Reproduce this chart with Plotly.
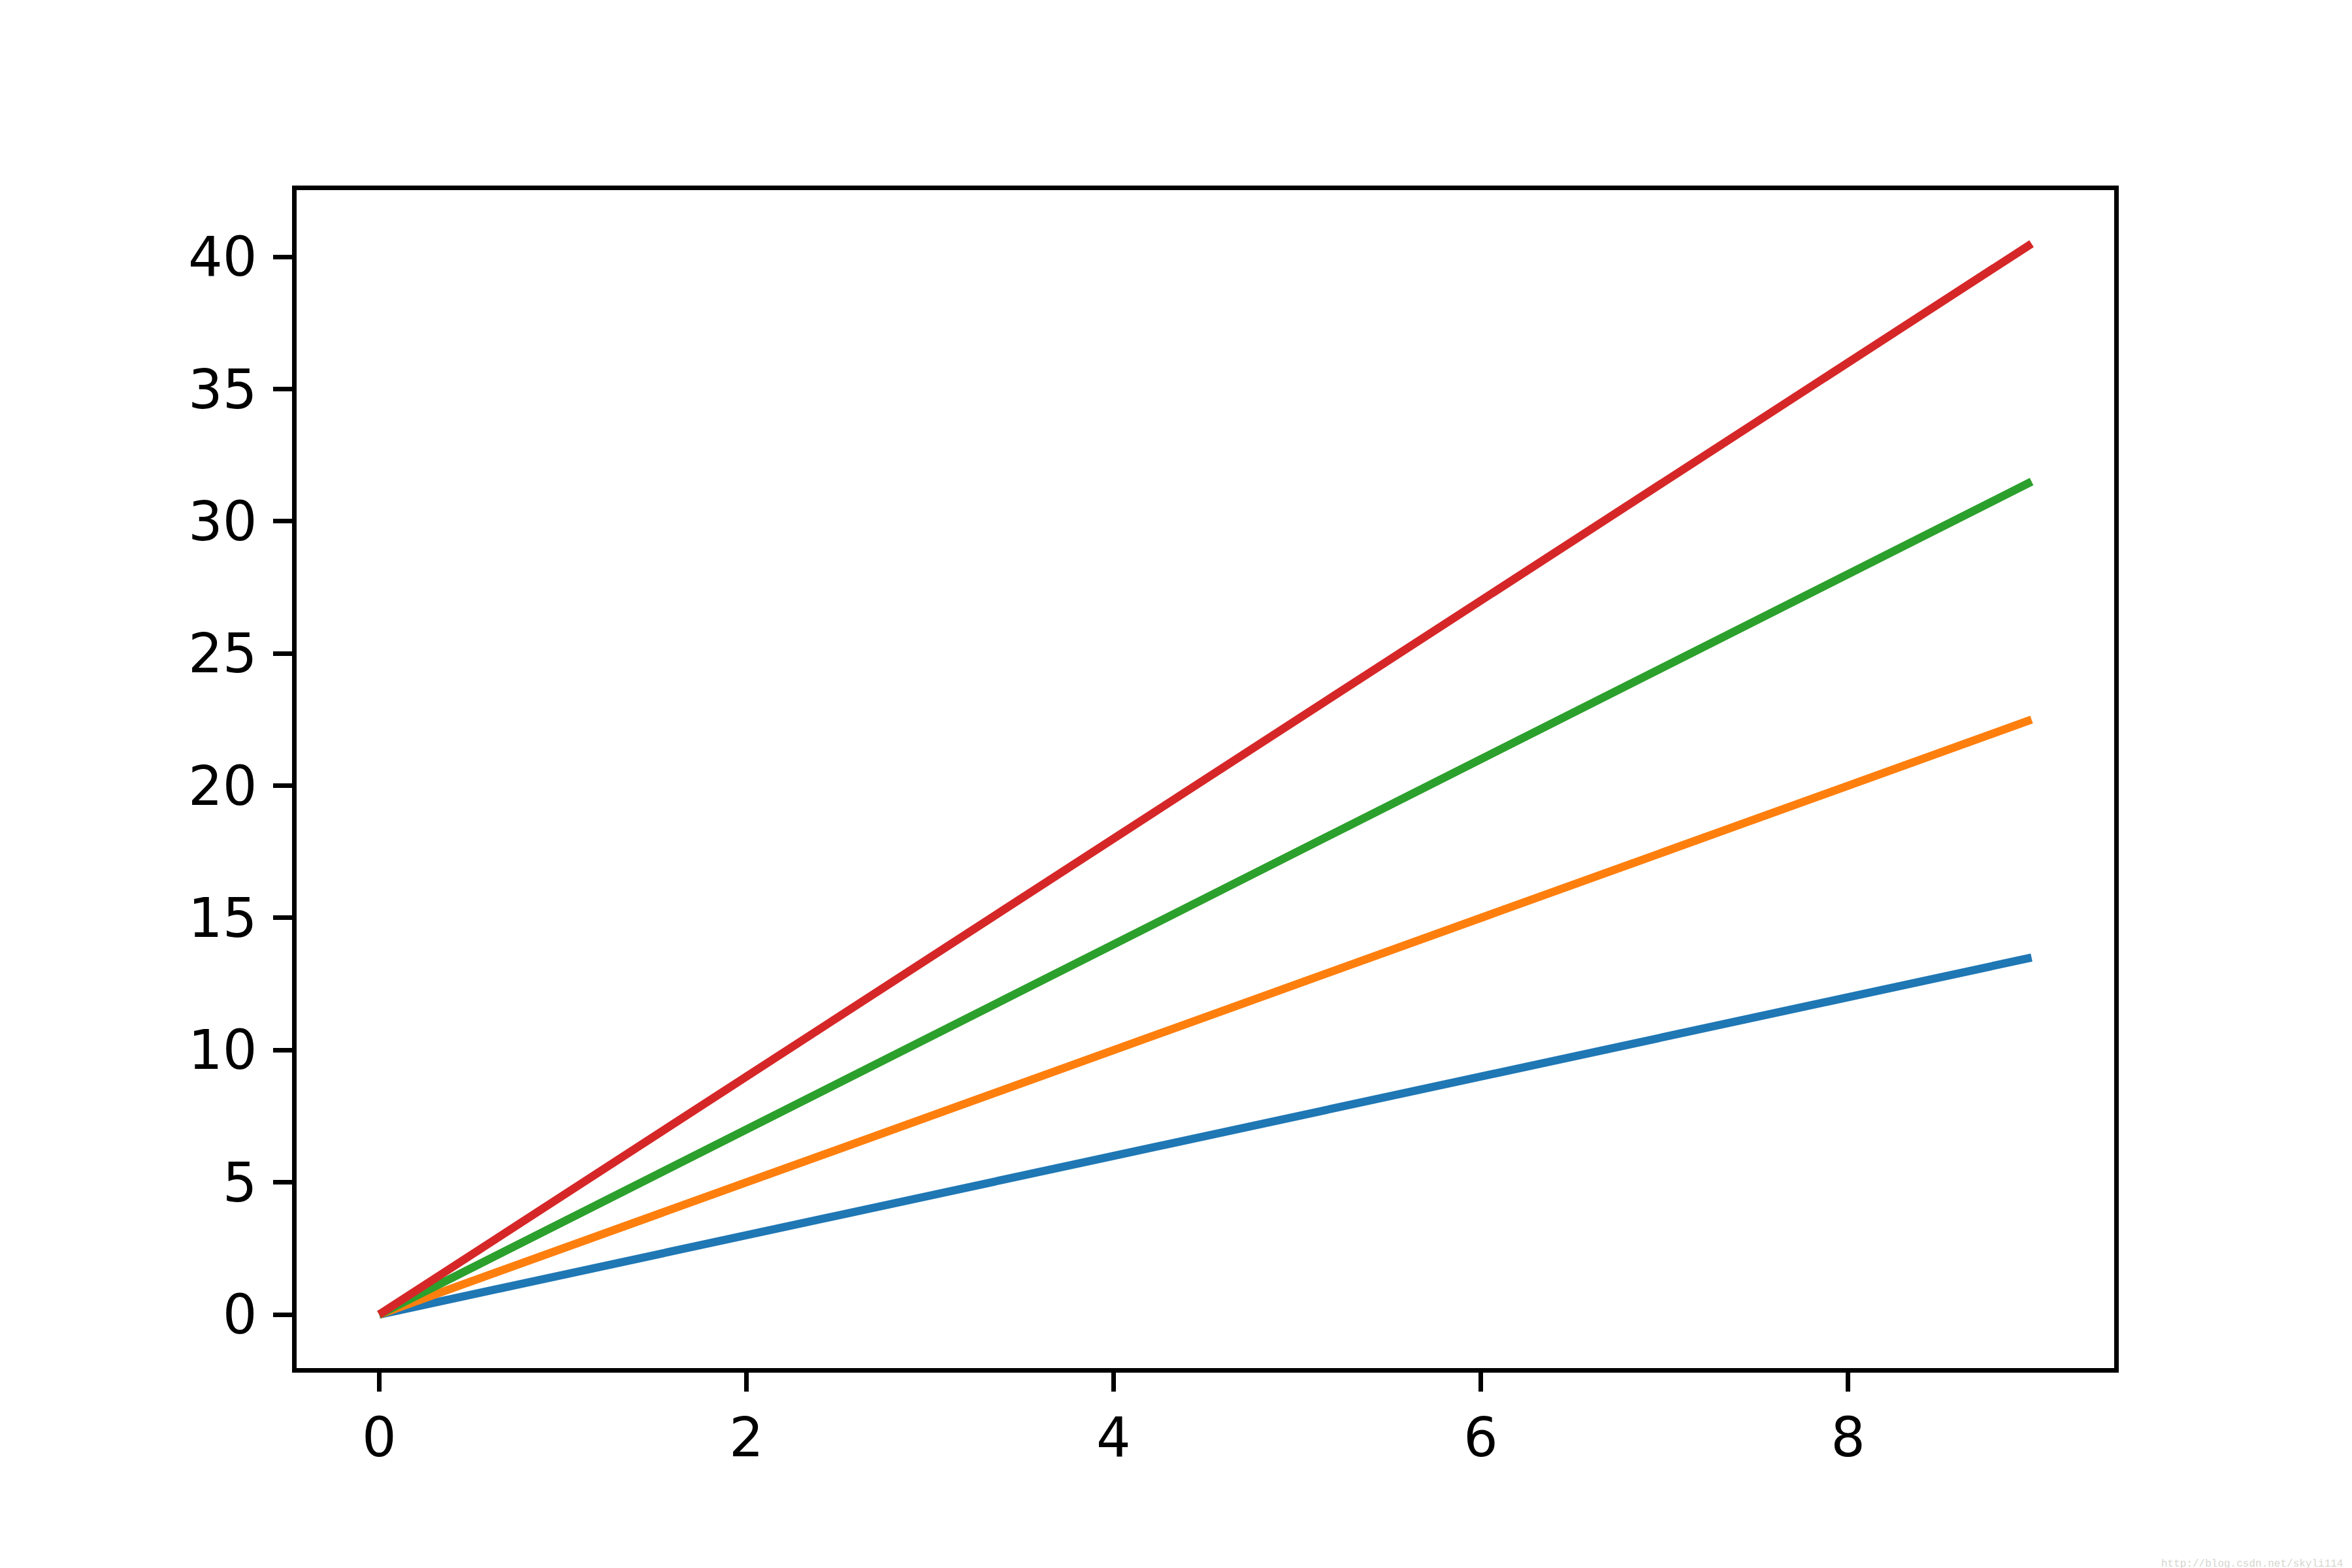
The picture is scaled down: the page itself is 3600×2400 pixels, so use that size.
import plotly.graph_objects as go

# data
x = [0, 1, 2, 3, 4, 5, 6, 7, 8, 9]
y_blue = [0, 1.5, 3.0, 4.5, 6.0, 7.5, 9.0, 10.5, 12.0, 13.5]
y_orange = [0, 2.5, 5.0, 7.5, 10.0, 12.5, 15.0, 17.5, 20.0, 22.5]
y_green = [0, 3.5, 7.0, 10.5, 14.0, 17.5, 21.0, 24.5, 28.0, 31.5]
y_red = [0, 4.5, 9.0, 13.5, 18.0, 22.5, 27.0, 31.5, 36.0, 40.5]

series = [y_blue, y_orange, y_green, y_red]
colors = ["#1f77b4", "#ff7f0e", "#2ca02c", "#d62728"]

x_ticks = [0, 2, 4, 6, 8]
y_ticks = [0, 5, 10, 15, 20, 25, 30, 35, 40]

fig = go.Figure()
for ys, c in zip(series, colors):
    fig.add_trace(go.Scatter(x=x, y=ys, mode="lines",
                             line=dict(color=c, width=12.5), showlegend=False))

axis_style = dict(showgrid=False, zeroline=False, showline=True, mirror=True,
                  linecolor="black", linewidth=6.7, ticks="outside",
                  ticklen=29, tickwidth=6.7, tickcolor="black",
                  tickfont=dict(family="DejaVu Sans", size=83, color="black"))

fig.update_xaxes(range=[-0.45, 9.45], tickvals=x_ticks, ticklabelstandoff=0, **axis_style)
fig.update_yaxes(range=[-2.025, 42.525], tickvals=y_ticks, ticklabelstandoff=8, **axis_style)

# faint blog watermark in the corner
fig.add_annotation(text="http://blog.csdn.net/skyli114", xref="paper", yref="paper",
                   x=1.0, y=0, xshift=352, yshift=-300,
                   xanchor="right", yanchor="middle", showarrow=False,
                   font=dict(family="Liberation Mono", size=16, color="#d6d6ce"))

fig.update_layout(width=3600, height=2400, plot_bgcolor="white", paper_bgcolor="white",
                  margin=dict(l=446, r=372, t=283, b=314, autoexpand=False))

fig.write_html("out.html")
